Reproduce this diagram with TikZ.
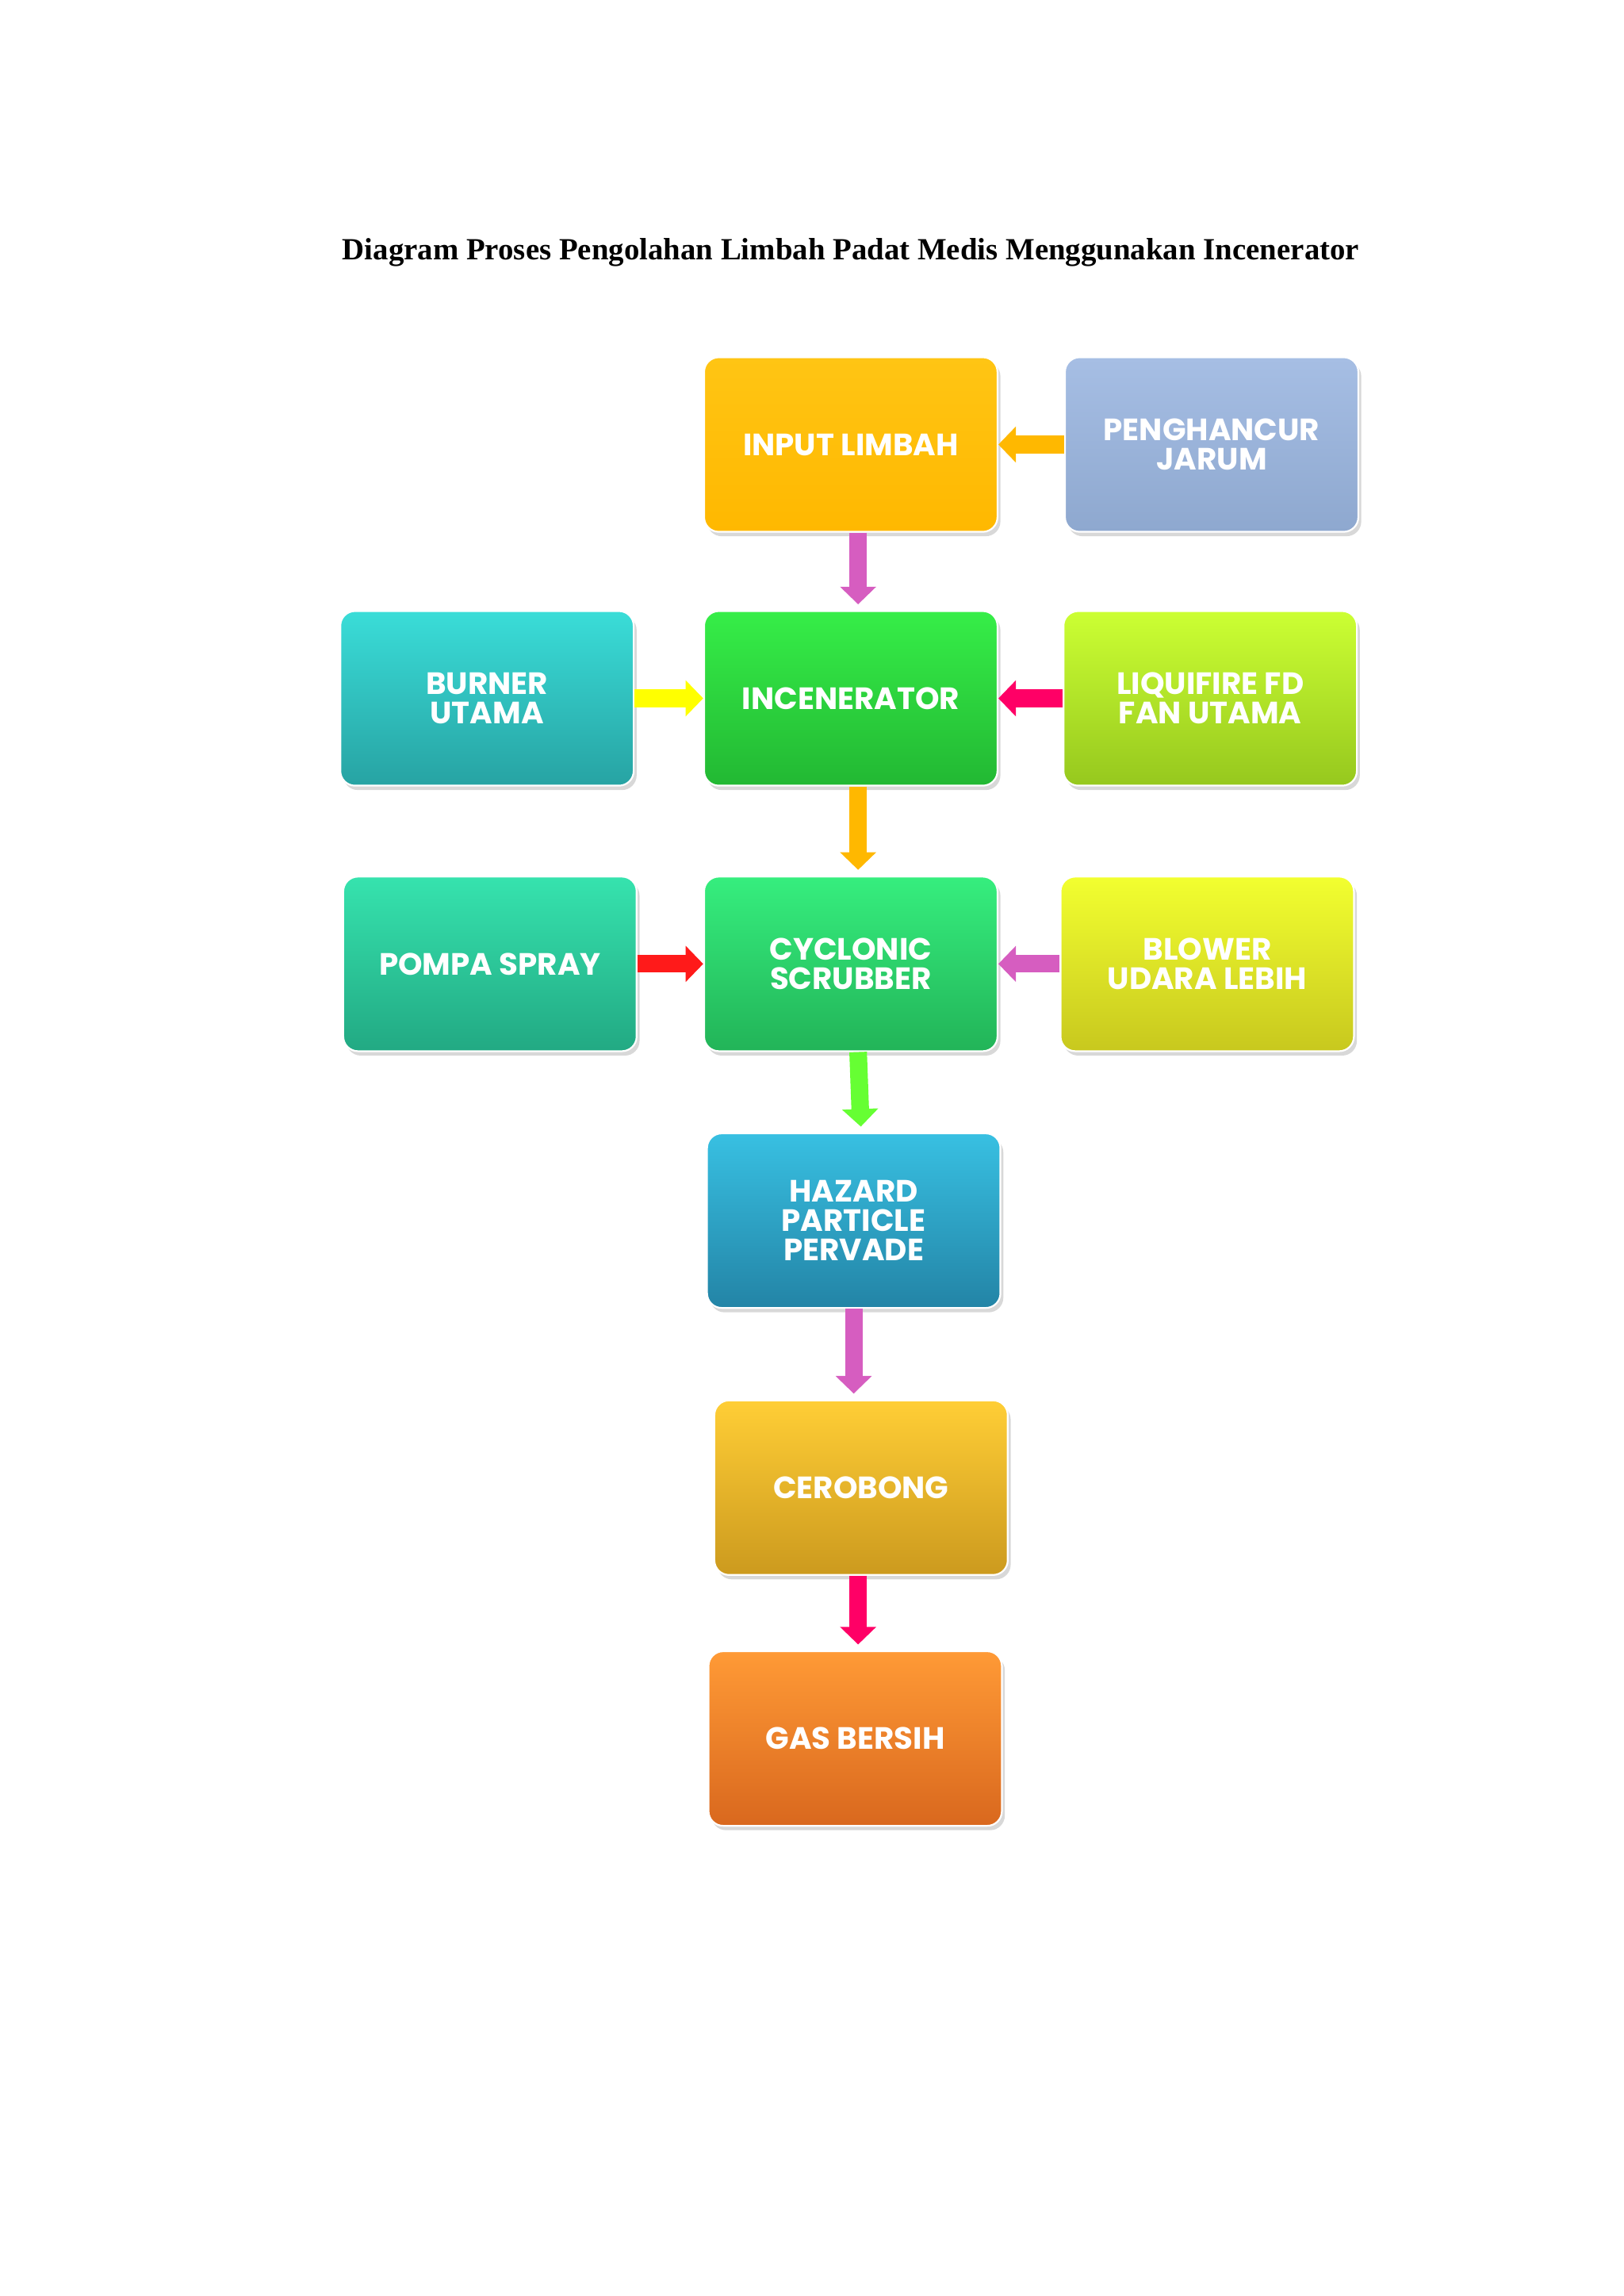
\documentclass[tikz,border=0pt]{standalone}
\usepackage{fontspec}
\setmainfont{Liberation Serif}
\newfontfamily\boxfont{Poppins}
\usetikzlibrary{arrows.meta,shadows}
\definecolor{inT}{HTML}{FFC514}\definecolor{inB}{HTML}{FFB800}
\definecolor{peT}{HTML}{A6BEE4}\definecolor{peB}{HTML}{8EA8CF}
\definecolor{buT}{HTML}{3ADDD8}\definecolor{buB}{HTML}{27A3A3}
\definecolor{icT}{HTML}{36EE48}\definecolor{icB}{HTML}{22B833}
\definecolor{liT}{HTML}{CCFF33}\definecolor{liB}{HTML}{96C81E}
\definecolor{poT}{HTML}{36E3AE}\definecolor{poB}{HTML}{22A983}
\definecolor{cyT}{HTML}{36EE7E}\definecolor{cyB}{HTML}{22B458}
\definecolor{blT}{HTML}{F2FF30}\definecolor{blB}{HTML}{C8C81E}
\definecolor{haT}{HTML}{38C0E2}\definecolor{haB}{HTML}{2384A6}
\definecolor{ceT}{HTML}{FFCE36}\definecolor{ceB}{HTML}{CC9A1E}
\definecolor{gaT}{HTML}{FF9A36}\definecolor{gaB}{HTML}{D9681E}
\definecolor{aViolet}{HTML}{D65DC0}
\definecolor{aOrange}{HTML}{FFB800}
\definecolor{aGreen}{HTML}{66FF33}
\definecolor{aPink}{HTML}{FF0066}
\definecolor{aYellow}{HTML}{FFFF00}
\definecolor{aRed}{HTML}{FF1A1A}
\begin{document}
\begin{tikzpicture}[x=0.5pt,y=-0.5pt,
  box/.style={rounded corners=5pt,minimum width=100pt,minimum height=59.5pt,
    align=center,text=white,font=\boxfont\bfseries\fontsize{10.5}{10}\selectfont,
    drop shadow={shadow xshift=1pt,shadow yshift=-1.5pt,opacity=0.3},
    draw=white,line width=0.6pt,inner sep=2pt},
  g/.style 2 args={box,top color=#1,bottom color=#2},
  arr/.style={line width=6pt,-{Triangle[width=12pt,length=6pt]},draw=#1}]
\useasboundingbox (0,0) rectangle (1107,1565);
\fill[white] (0,0) rectangle (1107,1565);
\node[font=\bfseries\fontsize{10.5}{12}\selectfont] (title) at (580,172) {Diagram Proses Pengolahan Limbah Padat Medis Menggunakan Incenerator};
\node[g={inT}{inB}] (input) at (580,303) {INPUT LIMBAH};
\node[g={peT}{peB}] (peng) at (826,303) {PENGHANCUR\\JARUM};
\node[g={buT}{buB}] (burner) at (332,476) {BURNER\\UTAMA};
\node[g={icT}{icB}] (inc) at (580,476) {INCENERATOR};
\node[g={liT}{liB}] (liq) at (825,476) {LIQUIFIRE FD\\FAN UTAMA};
\node[g={poT}{poB}] (pompa) at (334,657) {POMPA SPRAY};
\node[g={cyT}{cyB}] (cyc) at (580,657) {CYCLONIC\\SCRUBBER};
\node[g={blT}{blB}] (blower) at (823,657) {BLOWER\\UDARA LEBIH};
\node[g={haT}{haB}] (haz) at (582,832) {HAZARD\\PARTICLE\\PERVADE};
\node[g={ceT}{ceB}] (cer) at (587,1014) {CEROBONG};
\node[g={gaT}{gaB}] (gas) at (583,1185) {GAS BERSIH};
\draw[arr=aViolet,shorten >=2pt] ([xshift=2.5pt]input.south) -- ([xshift=2.5pt]inc.north);
\draw[arr=aOrange,shorten >=2pt] ([xshift=2.5pt]inc.south) -- ([xshift=2.5pt]cyc.north);
\draw[arr=aGreen,shorten >=2pt] ([xshift=2.5pt]cyc.south) -- ([xshift=2.5pt]haz.north);
\draw[arr=aViolet,shorten >=2pt] (haz.south) -- (haz.south |- cer.north);
\draw[arr=aPink,shorten >=2pt] ([xshift=-1pt]cer.south) -- ([xshift=-1pt]cer.south |- gas.north);
\draw[arr=aOrange] (peng.west) -- (input.east);
\draw[arr=aYellow] (burner.east) -- (inc.west);
\draw[arr=aPink] (liq.west) -- (inc.east);
\draw[arr=aRed] (pompa.east) -- (cyc.west);
\draw[arr=aViolet] (blower.west) -- (cyc.east);
\end{tikzpicture}
\end{document}
